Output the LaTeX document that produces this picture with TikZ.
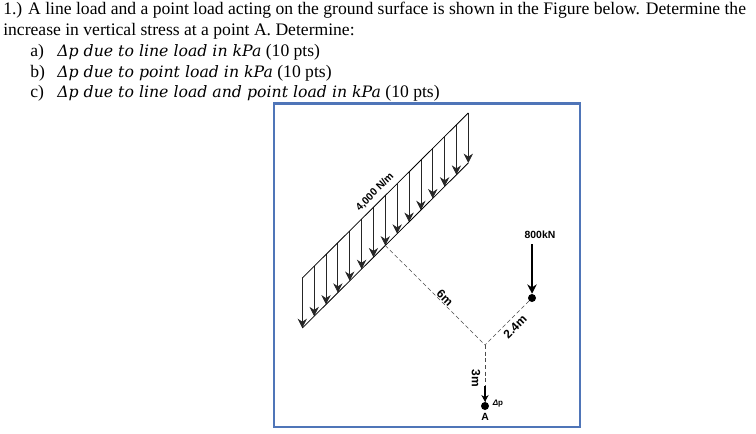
\documentclass[tikz,border=0pt]{standalone}
\usepackage{fontspec}
\setmainfont{Liberation Serif}
\setsansfont{Liberation Sans}
\newfontfamily\mathlike{DejaVu Serif}
\usepackage{xcolor}
\usetikzlibrary{arrows.meta}
\definecolor{framecol}{HTML}{4F75B8}
\newcommand{\dimtxt}[1]{{\sffamily\bfseries\fontsize{7.8}{9}\selectfont #1}}
\newcommand{\lentxt}[1]{{\sffamily\bfseries\fontsize{9}{10}\selectfont #1}}
\newcommand{\dimit}[1]{{\mathlike\itshape\fontsize{11.8}{13}\selectfont #1}}
\begin{document}
\begin{tikzpicture}[x=0.75pt,y=-0.75pt,
		txtline/.style={anchor=base west,inner sep=0pt,font=\fontsize{13.2}{15}\selectfont},
		dimline/.style={densely dashed,thin,color=black!70},
		loadarrow/.style={-{Stealth[length=7pt,width=7pt]},line width=0.6pt,color=black!85},
		dimlabel/.style={inner sep=0pt}]
	\useasboundingbox (0,0) rectangle (756,433);
	% question text
	\node[txtline] (lineone) at (3,14) {1.) A line load and a point load acting on the ground surface is shown in the Figure below. Determine the};
	\node[txtline] (linetwo) at (3,35) {increase in vertical stress at a point A. Determine:};
	\node[txtline] (itema) at (30,56) {a)};
	\node[txtline] (itemb) at (30,77) {b)};
	\node[txtline] (itemc) at (30,97) {c)};
	\node[txtline] (texta) at (57,56) {\dimit{Δp due to line load in kPa} (10 pts)};
	\node[txtline] (textb) at (57,77) {\dimit{Δp due to point load in kPa} (10 pts)};
	\node[txtline] (textc) at (57,97) {\dimit{Δp due to line load and point load in kPa} (10 pts)};
	% frame
	\draw[framecol,line width=2.2pt] (274,103.5) rectangle (580,427);
	% line load
	\foreach \i in {0,...,14}{
		\coordinate (top\i) at ({302.3+\i*11.86},{278-\i*11.79});
		\coordinate (tip\i) at ({302.3+\i*11.86},{328-\i*11.79});
		\draw[loadarrow] (top\i) -- (tip\i);
	}
	\draw[line width=0.6pt] (top0) -- (top14);
	\draw[line width=0.6pt] (tip0) -- (tip14);
	\node[dimlabel,rotate=45] (loadlabel) at (375,192) {\dimtxt{4,000 N/m}};
	% dimension lines
	\coordinate (meet) at (485,345);
	\node[circle,fill=black,inner sep=0pt,minimum size=6pt] (pointp) at (532,298) {};
	\node[circle,fill=black,inner sep=0pt,minimum size=6pt] (pointa) at (485,406) {};
	\draw[dimline] (tip7) -- (meet);
	\draw[dimline] (pointp) -- (meet);
	\draw[dimline] (meet) -- (pointa);
	\node[dimlabel,rotate=-45] (sixm) at (445,298) {\lentxt{6m}};
	\node[dimlabel,rotate=45] (twofourm) at (515,327) {\lentxt{2.4m}};
	\node[dimlabel,rotate=-90] (threem) at (476,378) {\lentxt{3m}};
	% point load
	\node[dimlabel] (pload) at (540,235) {\dimtxt{800kN}};
	\coordinate (pstart) at (532,244);
	\draw[-{Stealth[length=7pt,width=7pt]},line width=2.2pt] (pstart) -- (pointp);
	\coordinate (astart) at (485,386);
	\draw[-{Stealth[length=5pt,width=5.5pt]},line width=1.4pt] (astart) -- (pointa);
	\node[dimlabel] (deltap) at (498,404) {{\sffamily\bfseries\fontsize{6}{7}\selectfont \textit{Δ}p}};
	\node[dimlabel] (labela) at (485,416.5) {\dimtxt{A}};
\end{tikzpicture}
\end{document}
